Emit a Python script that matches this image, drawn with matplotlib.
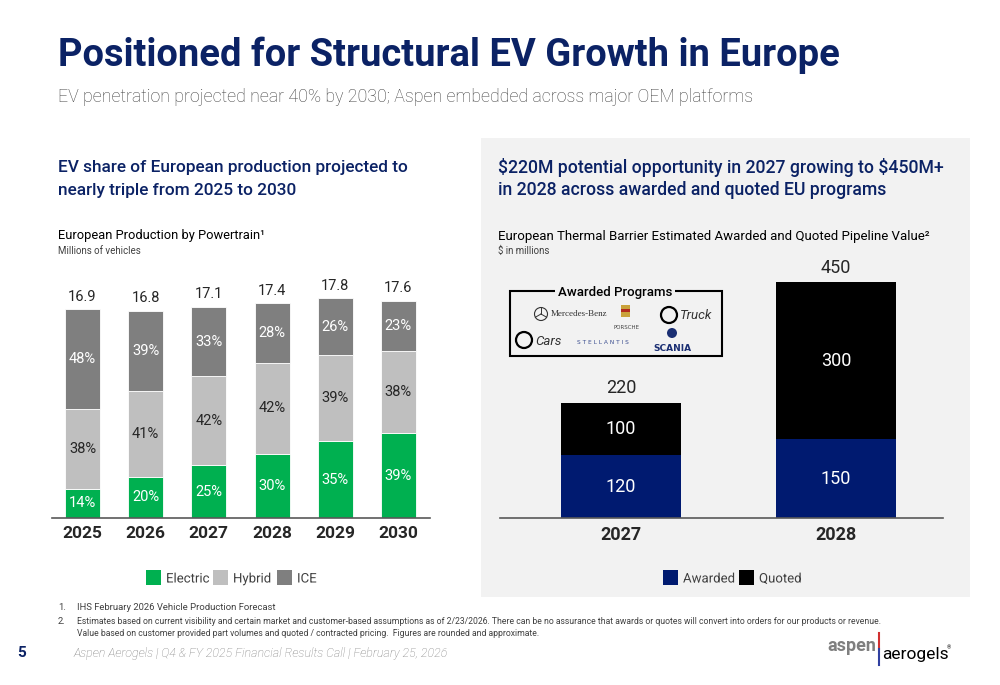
import numpy as np
import matplotlib
matplotlib.use('Agg')
import matplotlib.pyplot as plt
import matplotlib.patheffects as pe
from matplotlib.patches import Rectangle, Circle

# fonts
SANS = ['Roboto', 'DejaVu Sans']

# left chart data: European production by powertrain (millions of vehicles)
years = ['2025', '2026', '2027', '2028', '2029', '2030']
totals = [16.9, 16.8, 17.1, 17.4, 17.8, 17.6]
electric_pct = [14, 20, 25, 30, 35, 39]
hybrid_pct = [38, 41, 42, 42, 39, 38]
ice_pct = [48, 39, 33, 28, 26, 23]

# right chart data: pipeline value ($ in millions)
pipe_years = ['2027', '2028']
awarded = [120, 150]
quoted = [100, 300]

NAVY = '#0B2265'
GREEN = '#00B050'
HYBRID = '#BFBFBF'
ICE = '#7F7F7F'
AWARDED = '#001A70'
DARK = '#262626'

W, H = 1000, 685
fig = plt.figure(figsize=(10, 6.85), dpi=100)


def fit(t, width):
    # scale font size so the text spans the given width in pixels
    r = fig.canvas.get_renderer()
    w = t.get_window_extent(r).width
    t.set_fontsize(t.get_fontsize() * width / w)


# background / overlay axes in pixel coordinates
bg = fig.add_axes([0, 0, 1, 1], zorder=0)
bg.set_xlim(0, W)
bg.set_ylim(H, 0)
bg.axis('off')
bg.add_patch(Rectangle((481, 138), 489, 459, color='#F2F2F2', lw=0))

# titles
t = bg.text(58, 66, 'Positioned for Structural EV Growth in Europe', family=SANS,
            weight='bold', color=NAVY, fontsize=30, va='baseline')
fit(t, 782)
t = bg.text(58, 102, 'EV penetration projected near 40% by 2030; Aspen embedded across major OEM platforms',
            family=SANS, weight='light', color='#404040', fontsize=12, va='baseline')
fit(t, 692)

h1 = bg.text(58, 172, 'EV share of European production projected to', family=SANS,
             weight='medium', color=NAVY, fontsize=13, va='baseline')
fit(h1, 352)
bg.text(58, 195, 'nearly triple from 2025 to 2030', family=SANS, weight='medium',
        color=NAVY, fontsize=h1.get_fontsize(), va='baseline')
h2 = bg.text(498, 173, '\\$220M potential opportunity in 2027 growing to \\$450M+', family=SANS,
             weight='medium', color=NAVY, fontsize=13, va='baseline')
fit(h2, 447)
bg.text(498, 195, 'in 2028 across awarded and quoted EU programs', family=SANS, weight='medium',
        color=NAVY, fontsize=h2.get_fontsize(), va='baseline')

s1 = bg.text(58, 239, 'European Production by Powertrain¹', family=SANS, color='black',
             fontsize=10, va='baseline')
fit(s1, 207)
bg.text(58, 254, 'Millions of vehicles', family=SANS, color='#404040', fontsize=7, va='baseline')
s2 = bg.text(498, 240, 'European Thermal Barrier Estimated Awarded and Quoted Pipeline Value²',
             family=SANS, color='black', fontsize=10, va='baseline')
fit(s2, 432)
bg.text(498, 254, '\\$ in millions', family=SANS, color='#404040', fontsize=7, va='baseline')

# ---- left chart ----
ax1 = fig.add_axes([52 / W, 1 - 518 / H, 378 / W, 248 / H], zorder=1)
ax1.patch.set_alpha(0)
x = np.arange(len(years))
tot = np.array(totals)
e = tot * np.array(electric_pct) / 100
hy = tot * np.array(hybrid_pct) / 100
ic = tot * np.array(ice_pct) / 100
ax1.bar(x, e, width=0.555, color=GREEN, edgecolor='white', linewidth=0.6)
ax1.bar(x, hy, width=0.555, bottom=e, color=HYBRID, edgecolor='white', linewidth=0.6)
ax1.bar(x, ic, width=0.555, bottom=e + hy, color=ICE, edgecolor='white', linewidth=0.6)
for i in range(len(years)):
    ax1.text(x[i], e[i] / 2, f'{electric_pct[i]}%', ha='center', va='center',
             color='white', family=SANS, fontsize=10.5)
    ax1.text(x[i], e[i] + hy[i] / 2, f'{hybrid_pct[i]}%', ha='center', va='center',
             color=DARK, family=SANS, fontsize=10.5)
    ax1.text(x[i], e[i] + hy[i] + ic[i] / 2, f'{ice_pct[i]}%', ha='center', va='center',
             color='white', family=SANS, fontsize=10.5)
    ax1.annotate(f'{totals[i]}', (x[i], tot[i]), xytext=(0, 4), textcoords='offset points',
                 ha='center', va='bottom', color=DARK, family=SANS, fontsize=10.5)
ax1.set_xlim(-0.483, 5.5)
ax1.set_ylim(0, 20.08)
ax1.set_xticks(x)
ax1.set_xticklabels(years, family=SANS, weight='bold', fontsize=12.5, color=DARK)
ax1.set_yticks([])
ax1.tick_params(axis='x', length=0, pad=6)
for s in ['top', 'right', 'left']:
    ax1.spines[s].set_visible(False)
ax1.spines['bottom'].set_color('#595959')
ax1.spines['bottom'].set_linewidth(1.2)

# ---- right chart ----
ax2 = fig.add_axes([500 / W, 1 - 518 / H, 443 / W, 248 / H], zorder=1)
ax2.patch.set_alpha(0)
x2 = np.arange(len(pipe_years))
aw = np.array(awarded)
qu = np.array(quoted)
ax2.bar(x2, aw, width=0.558, color=AWARDED)
ax2.bar(x2, qu, width=0.558, bottom=aw, color='black')
for i in range(len(pipe_years)):
    ax2.text(x2[i], aw[i] / 2, f'{awarded[i]}', ha='center', va='center', color='white',
             family=SANS, fontsize=13)
    ax2.text(x2[i], aw[i] + qu[i] / 2, f'{quoted[i]}', ha='center', va='center', color='white',
             family=SANS, fontsize=13)
    ax2.annotate(f'{awarded[i] + quoted[i]}', (x2[i], aw[i] + qu[i]), xytext=(0, 4),
                 textcoords='offset points', ha='center', va='bottom', color=DARK,
                 family=SANS, fontsize=13)
ax2.set_xlim(-0.563, 1.498)
ax2.set_ylim(0, 473)
ax2.set_xticks(x2)
ax2.set_xticklabels(pipe_years, family=SANS, weight='bold', fontsize=13, color=DARK)
ax2.set_yticks([])
ax2.tick_params(axis='x', length=0, pad=6)
for s in ['top', 'right', 'left']:
    ax2.spines[s].set_visible(False)
ax2.spines['bottom'].set_color('#595959')
ax2.spines['bottom'].set_linewidth(1.2)

# ---- legends (square + label) ----
# path effect draws the label as a path, which keeps the baselines aligned
legend_items = [(146, GREEN, 'Electric'), (213, HYBRID, 'Hybrid'), (277, ICE, 'ICE'),
                (663, AWARDED, 'Awarded'), (739, 'black', 'Quoted')]
for lx, col, lab in legend_items:
    bg.add_patch(Rectangle((lx, 570), 15, 15, color=col, lw=0))
    bg.text(lx + 20, 582.5, lab, family=SANS, fontsize=9.5, color='#404040',
            va='baseline', path_effects=[pe.Normal()])

# ---- awarded programs box ----
bg.add_patch(Rectangle((510, 291), 212, 65, fill=False, ec='black', lw=1.5))
bg.text(615, 292, 'Awarded Programs', ha='center', va='center', family=SANS, weight='medium',
        fontsize=9.5, color='black',
        bbox=dict(fc='#F2F2F2', ec='none', pad=2))
# Mercedes-Benz
bg.add_patch(Circle((541, 314), 6.5, fill=False, ec='#333333', lw=0.8))
for a in [90, 210, 330]:
    r = np.radians(a)
    bg.plot([541, 541 + 6.5 * np.cos(r)], [314, 314 - 6.5 * np.sin(r)], color='#333333', lw=0.7)
bg.text(551, 314, 'Mercedes-Benz', family=['Liberation Serif', 'DejaVu Serif'], fontsize=6.5,
        va='center', color='#333333')
# Porsche
bg.add_patch(Rectangle((621, 305), 9, 12, color='#C9A23A', lw=0))
bg.add_patch(Rectangle((621, 309), 9, 3, color='#B22A1E', lw=0))
bg.text(626, 327, 'PORSCHE', family=['DejaVu Sans'], fontsize=4, ha='center', va='center',
        color='#444444')
# Volvo Truck / Cars
bg.add_patch(Circle((669, 315), 8, fill=False, ec='black', lw=1.6))
bg.text(680, 315, 'Truck', family=SANS, style='italic', fontsize=9.5, va='center', color='#333333')
bg.add_patch(Circle((524, 340), 8, fill=False, ec='black', lw=1.6))
bg.text(535, 341, 'Cars', family=SANS, style='italic', fontsize=9.5, va='center', color='#333333')
# Stellantis
bg.text(603, 342, 'S T E L L A N T I S', family=['DejaVu Sans'], fontsize=4.2, ha='center',
        va='center', color='#3A4D8F')
# Scania
bg.add_patch(Circle((672, 333), 5, color='#1B2F73', lw=0))
bg.text(672, 348, 'SCANIA', family=['DejaVu Sans'], weight='bold', fontsize=6.5, ha='center',
        va='center', color='#1B2F73')

# ---- footnotes ----
bg.text(58, 608, '1.', family=SANS, fontsize=6.8, va='center', color='#404040')
bg.text(77, 608, 'IHS February 2026 Vehicle Production Forecast', family=SANS, fontsize=6.8,
        va='center', color='#404040')
bg.text(58, 621, '2.', family=SANS, fontsize=6.8, va='center', color='#404040')
f2 = bg.text(77, 621, 'Estimates based on current visibility and certain market and customer-based '
             'assumptions as of 2/23/2026. There can be no assurance that awards or quotes will '
             'convert into orders for our products or revenue.', family=SANS, fontsize=6.8,
             va='center', color='#404040')
fit(f2, 811)
bg.text(77, 633, 'Value based on customer provided part volumes and quoted / contracted pricing.  '
        'Figures are rounded and approximate.', family=SANS, fontsize=f2.get_fontsize(),
        va='center', color='#404040')

# ---- footer ----
bg.text(22, 653, '5', family=SANS, weight='bold', fontsize=11, color=NAVY, ha='center', va='center')
ft = bg.text(73, 653, 'Aspen Aerogels | Q4 & FY 2025 Financial Results Call | February 25, 2026',
             family=SANS, weight='light', style='italic', fontsize=9.5, color='#7F7F7F', va='center')
fit(ft, 374)
bg.text(876, 646, 'aspen', family=SANS, weight='bold', fontsize=13,
        color='#7F7F7F', ha='right', va='center')
bg.plot([879, 879], [633, 649], color='#D03030', lw=1.5)
bg.plot([879, 879], [649, 665], color='#3040A0', lw=1.5)
bg.text(882, 654, 'aerogels', family=SANS, fontsize=12.5,
        color='black', ha='left', va='center')
bg.text(947, 648, '®', family=SANS, fontsize=4, color='black', va='center')

fig.savefig('out.png', dpi=100)
